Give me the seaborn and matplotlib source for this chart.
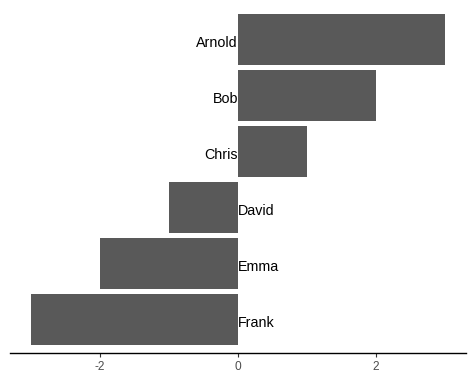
import matplotlib
matplotlib.use("Agg")
import matplotlib.pyplot as plt
import seaborn as sns
import pandas as pd

names = ["Arnold", "Bob", "Chris", "David", "Emma", "Frank"]
values = [3, 2, 1, -1, -2, -3]
xticks = [-2, 0, 2]

df = pd.DataFrame({"name": names, "value": values})

sns.set_style("white")
plt.rcParams["font.family"] = ["Liberation Sans", "DejaVu Sans"]

fig = plt.figure(figsize=(4.74, 3.79), dpi=100)
ax = fig.add_axes([10 / 474, 1 - 353 / 379, 456 / 474, 347 / 379])

sns.barplot(data=df, y="name", x="value", orient="h", color="#595959",
            saturation=1, width=0.9, ax=ax, order=names, linewidth=0)

for i, (n, v) in enumerate(zip(names, values)):
    if v >= 0:
        ax.text(0, i + 0.03, n, ha="right", va="center_baseline", fontsize=10.3, color="black")
    else:
        ax.text(0, i + 0.03, n, ha="left", va="center_baseline", fontsize=10.3, color="black")

ax.set_xlim(-3.3, 3.3)
ax.set_ylim(5.6, -0.6)
ax.set_xticks(xticks)
ax.set_xticklabels([str(t) for t in xticks], fontsize=8.6, color="#4d4d4d")
ax.set_yticks([])
ax.set_xlabel("")
ax.set_ylabel("")
for s in ["top", "left", "right"]:
    ax.spines[s].set_visible(False)
ax.spines["bottom"].set_color("black")
ax.spines["bottom"].set_linewidth(1.0)
ax.tick_params(axis="x", length=3, width=0.8, color="#333333", pad=3, bottom=True)

fig.savefig("out.png", dpi=100)
